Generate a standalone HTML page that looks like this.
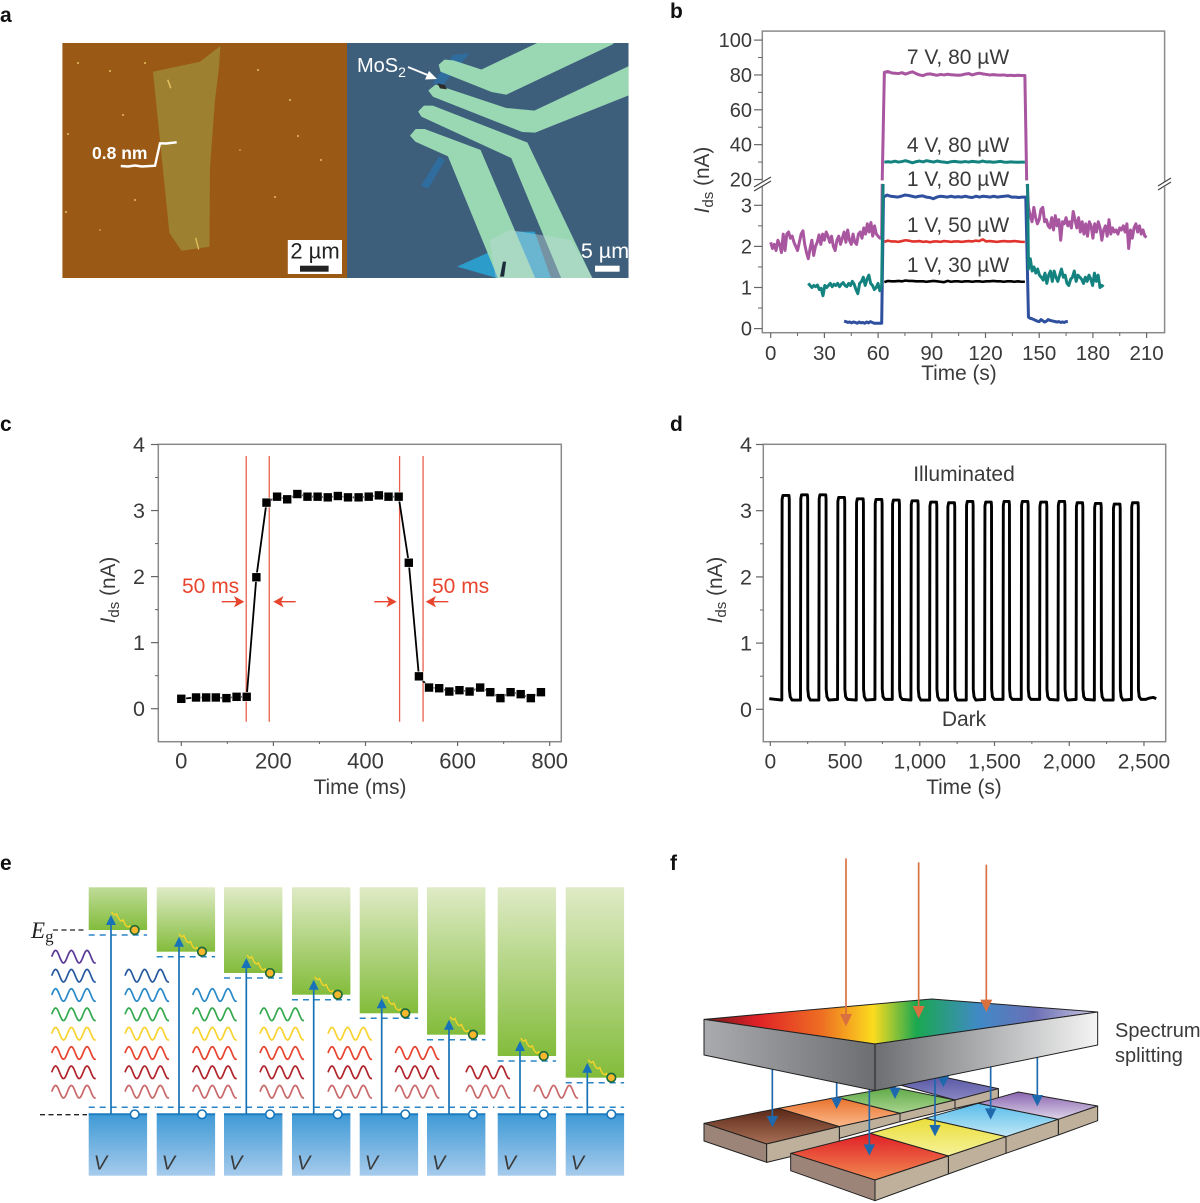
<!DOCTYPE html>
<html lang="en">
<head>
<meta charset="utf-8">
<title>MoS2 phototransistor figure</title>
<style>
html,body{margin:0;padding:0;background:#fff}
svg{display:block}
text{font-family:"Liberation Sans",sans-serif;fill:#3a3a3a}
.pl{font-size:21px;font-weight:bold;fill:#111}
.ax{font-size:20.8px}
.cap{font-size:21px}
</style>
</head>
<body>
<svg id="fig" width="1200" height="1203" viewBox="0 0 1200 1203">
<defs>
<linearGradient id="gGreen" x1="0" y1="0" x2="0" y2="1"><stop offset="0" stop-color="#dfebc6"/><stop offset="1" stop-color="#83bc3b"/></linearGradient>
<linearGradient id="gGreen0" x1="0" y1="0" x2="0" y2="1"><stop offset="0" stop-color="#bfdc98"/><stop offset="1" stop-color="#83bc3b"/></linearGradient>
<linearGradient id="gBlue" x1="0" y1="0" x2="0" y2="1"><stop offset="0" stop-color="#3f9ad6"/><stop offset="1" stop-color="#a6cbec"/></linearGradient>
<linearGradient id="gRainbow" x1="0" y1="0" x2="1" y2="0">
<stop offset="0" stop-color="#6e1a1a"/><stop offset="0.135" stop-color="#e02027"/><stop offset="0.3" stop-color="#ee6f22"/><stop offset="0.43" stop-color="#fcdc1f"/><stop offset="0.54" stop-color="#1aa850"/><stop offset="0.7" stop-color="#4189c7"/><stop offset="0.84" stop-color="#6b6fb5"/><stop offset="1" stop-color="#cfcbe4"/>
</linearGradient>
<linearGradient id="gSlabL" x1="0" y1="0" x2="1" y2="0"><stop offset="0" stop-color="#a9abae"/><stop offset="1" stop-color="#6c6e71"/></linearGradient>
<linearGradient id="gSlabR" x1="0" y1="0" x2="1" y2="0"><stop offset="0" stop-color="#6c6e71"/><stop offset="1" stop-color="#f4f4f4"/></linearGradient>
<linearGradient id="pBrown" x1="0" y1="0" x2="0" y2="1"><stop offset="0" stop-color="#5a2817"/><stop offset="1" stop-color="#a86f55"/></linearGradient>
<linearGradient id="pOrange" x1="0" y1="0" x2="0" y2="1"><stop offset="0" stop-color="#e8702c"/><stop offset="1" stop-color="#fbb98a"/></linearGradient>
<linearGradient id="pGreen" x1="0" y1="0" x2="0" y2="1"><stop offset="0" stop-color="#5fa948"/><stop offset="1" stop-color="#a9d48e"/></linearGradient>
<linearGradient id="pIndigo" x1="0" y1="0" x2="0" y2="1"><stop offset="0" stop-color="#5858a6"/><stop offset="1" stop-color="#9b97cd"/></linearGradient>
<linearGradient id="pRed" x1="0" y1="0" x2="0" y2="1"><stop offset="0" stop-color="#e01f26"/><stop offset="1" stop-color="#f28b52"/></linearGradient>
<linearGradient id="pYellow" x1="0" y1="0" x2="0" y2="1"><stop offset="0" stop-color="#eade3a"/><stop offset="1" stop-color="#f6f29a"/></linearGradient>
<linearGradient id="pSky" x1="0" y1="0" x2="0" y2="1"><stop offset="0" stop-color="#58bceb"/><stop offset="1" stop-color="#c2e8f6"/></linearGradient>
<linearGradient id="pPurple" x1="0" y1="0" x2="0" y2="1"><stop offset="0" stop-color="#8963af"/><stop offset="1" stop-color="#ded5ea"/></linearGradient>
<clipPath id="clipOptical"><rect x="347" y="43" width="281.6" height="235"/></clipPath>
</defs>

<text class="pl" x="0" y="22">a</text>
<text class="pl" x="670" y="18">b</text>
<text class="pl" x="0" y="431">c</text>
<text class="pl" x="670" y="431">d</text>
<text class="pl" x="0" y="870">e</text>
<text class="pl" x="670" y="870">f</text>

<!-- Panel a -->
<g>
  <rect x="62.4" y="43" width="285" height="235" fill="#9a5a16"/>
  <polygon points="220.4,46 219,66.7 215,100 210,167 209.4,246.7 181.6,250.7 169.4,233 161,150 153,71.7 200,61.7" fill="#9d8030"/>
  <g fill="#e5c060">
    <circle cx="78" cy="63" r="1"/><circle cx="110" cy="71" r="1"/><circle cx="145" cy="63" r="1"/><circle cx="123" cy="115" r="1"/><circle cx="68" cy="134" r="1"/><circle cx="298" cy="136" r="1"/><circle cx="321" cy="160" r="1"/><circle cx="258" cy="70" r="1"/><circle cx="275" cy="197" r="1"/><circle cx="66" cy="212" r="1"/><circle cx="135" cy="200" r="1"/><circle cx="290" cy="100" r="1"/><circle cx="240" cy="150" r="0.8"/><circle cx="100" cy="230" r="0.8"/>
    <rect x="167" y="80" width="1.5" height="9" transform="rotate(-20 167 80)"/>
    <rect x="195" y="238" width="1.3" height="12" transform="rotate(-15 195 238)"/>
  </g>
  <polyline points="120.8,166 128,166.5 135,165.5 142,166.5 155,165.7 160,143.3 166,143.5 176.7,142.3" fill="none" stroke="#fff" stroke-width="2.4"/>
  <text x="92" y="159" style="font-size:17.5px;font-weight:bold;fill:#fff">0.8 nm</text>
  <rect x="287.8" y="240" width="54.2" height="34" fill="#fff"/>
  <text x="315" y="258.5" text-anchor="middle" style="font-size:22px;fill:#222">2 µm</text>
  <rect x="300" y="265.7" width="28.6" height="6" fill="#222"/>
</g>
<g clip-path="url(#clipOptical)">
  <rect x="347" y="43" width="281.6" height="235" fill="#3e5f7c"/>
  <g transform="scale(0.40816 0.33333)">
    <polygon points="1120,800 1210,750 1220,695 1310,695 1350,835 1220,835" fill="#2c9ccb"/>
    <polygon points="1110,165 1150,160 1085,255 1060,250" fill="#2f6d9f"/>
    <polygon points="1075,470 1090,480 1050,565 1032,558" fill="#2f6d9f"/>
    <g fill="#99d8b3" stroke="#99d8b3" stroke-width="6" stroke-linejoin="round">
      <polygon points="1090,182 1110,184 1180,212 1320,130 1500,130 1240,281 1205,273 1082,213 1078,195"/>
      <polygon points="1068,257 1240,327 1310,335 1540,202 1540,283 1310,395 1280,393 1063,288 1053,272"/>
      <polygon points="1040,320 1060,320 1290,430 1450,840 1380,840 1255,472 1035,348 1028,335"/>
      <polygon points="1020,390 1040,390 1175,452 1310,840 1225,840 1100,467 1020,423 1008,407"/>
    </g>
    <polygon points="1200,720 1250,690 1400,720 1455,840 1215,840" fill="#c0dcd8" opacity="0.42"/>
    <polygon points="1225,830 1232,785 1240,785 1235,830" fill="#1b2b3a"/>
    <polygon points="1072,250 1090,255 1095,268 1078,265" fill="#2c2a2a"/>
  </g>
  <text x="357" y="72" style="font-size:20px;fill:#fff">MoS<tspan font-size="14" dy="5">2</tspan></text>
  <line x1="408" y1="67" x2="430" y2="76" stroke="#fff" stroke-width="1.8"/>
  <polygon points="437,79 425,79.5 429,71" fill="#fff"/>
  <text x="605" y="258" text-anchor="middle" style="font-size:21.5px;fill:#fff">5 µm</text>
  <rect x="595" y="265.7" width="24.6" height="6" fill="#fff"/>
</g>

<!-- Panel b -->
<g>
  <rect x="762.3" y="31.1" width="402.3" height="301.6" fill="none" stroke="#8a8a8a" stroke-width="1.5"/>
  <g id="bAxes"></g>
  <g id="bSeries"></g>
  <g>
    <polygon points="754,186 771,176 771,181 754,191" fill="#fff"/>
    <line x1="754" y1="187" x2="771" y2="177" stroke="#444" stroke-width="1.2"/>
    <line x1="754" y1="191" x2="771" y2="181" stroke="#444" stroke-width="1.2"/>
    <polygon points="1158,186 1171,178 1171,183 1158,191" fill="#fff"/>
    <line x1="1158" y1="186" x2="1171" y2="178" stroke="#444" stroke-width="1.2"/>
    <line x1="1158" y1="190" x2="1171" y2="182" stroke="#444" stroke-width="1.2"/>
  </g>
  <text class="cap" x="958" y="64" text-anchor="middle">7 V, 80 µW</text>
  <text class="cap" x="958" y="152" text-anchor="middle">4 V, 80 µW</text>
  <text class="cap" x="958" y="186" text-anchor="middle">1 V, 80 µW</text>
  <text class="cap" x="958" y="232" text-anchor="middle">1 V, 50 µW</text>
  <text class="cap" x="958" y="272" text-anchor="middle">1 V, 30 µW</text>
  <text class="ax" x="959" y="380" text-anchor="middle">Time (s)</text>
  <text class="ax" transform="translate(709 180) rotate(-90)" text-anchor="middle"><tspan font-style="italic">I</tspan><tspan font-size="15" dy="4">ds</tspan><tspan dy="-4"> (nA)</tspan></text>
</g>

<!-- Panel c -->
<g>
  <rect x="158.3" y="444.3" width="403" height="297.4" fill="none" stroke="#8a8a8a" stroke-width="1.5"/>
  <g id="cAxes"></g>
  <g id="cMarks"></g>
  <g id="cSeries"></g>
  <g fill="#e8452f" stroke="#e8452f" stroke-width="1.4">
    <path d="M221.7 601.7H238"/><polygon stroke="none" points="244.3,601.7 234,596 236.5,601.7 234,607.4"/>
    <path d="M295.7 601.7H280"/><polygon stroke="none" points="273.3,601.7 283.6,596 281,601.7 283.6,607.4"/>
    <path d="M374.3 601.7H390"/><polygon stroke="none" points="396.7,601.7 386.4,596 389,601.7 386.4,607.4"/>
    <path d="M448.3 601.7H432"/><polygon stroke="none" points="425.7,601.7 436,596 433.4,601.7 436,607.4"/>
  </g>
  <text x="182" y="593" style="font-size:21px;fill:#e8452f">50 ms</text>
  <text x="432" y="593" style="font-size:21px;fill:#e8452f">50 ms</text>
  <text class="ax" x="360" y="794" text-anchor="middle">Time (ms)</text>
  <text class="ax" transform="translate(115 590) rotate(-90)" text-anchor="middle"><tspan font-style="italic">I</tspan><tspan font-size="15" dy="4">ds</tspan><tspan dy="-4"> (nA)</tspan></text>
</g>

<!-- Panel d -->
<g>
  <rect x="763.3" y="444.3" width="402.4" height="297.4" fill="none" stroke="#8a8a8a" stroke-width="1.5"/>
  <g id="dAxes"></g>
  <g id="dSeries"></g>
  <text class="cap" x="964" y="481" text-anchor="middle">Illuminated</text>
  <text class="cap" x="964" y="726" text-anchor="middle">Dark</text>
  <text class="ax" x="964" y="794" text-anchor="middle">Time (s)</text>
  <text class="ax" transform="translate(722 590) rotate(-90)" text-anchor="middle"><tspan font-style="italic">I</tspan><tspan font-size="15" dy="4">ds</tspan><tspan dy="-4"> (nA)</tspan></text>
</g>

<!-- Panel e -->
<g id="panelE">
  <text x="31" y="938" style="font-family:'Liberation Serif',serif;font-style:italic;font-size:23px;fill:#222">E<tspan font-size="17" dy="4" font-style="normal">g</tspan></text>
  <line x1="53" y1="930" x2="87" y2="930" stroke="#222" stroke-width="1.3" stroke-dasharray="5 3.5"/>
  <line x1="40" y1="1114.7" x2="87" y2="1114.7" stroke="#222" stroke-width="1.3" stroke-dasharray="5 3.5"/>
</g>

<!-- Panel f -->
<g transform="translate(680 850) scale(0.33333)">
  <g stroke="#222" stroke-width="3" stroke-linejoin="round">
    <polygon points="660,705 785,680 955,716 955,745 825,775 825,750" fill="url(#pIndigo)"/>
    <polygon points="825,750 955,716 955,745 825,775" fill="#bfb09c"/>
    <polygon points="470,742 640,712 825,750 660,790" fill="url(#pGreen)"/>
    <polygon points="660,790 825,750 825,775 660,815" fill="#bfb09c"/>
    <polygon points="295,775 470,742 660,790 478,830" fill="url(#pOrange)"/>
    <polygon points="478,830 660,790 660,815 478,865" fill="#bfb09c"/>
    <polygon points="72,820 295,775 478,830 260,882" fill="url(#pBrown)"/>
    <polygon points="72,820 260,882 260,937 72,873" fill="#9c8478"/>
    <polygon points="260,882 478,830 478,885 260,937" fill="#bfb09c"/>
  </g>
  <g stroke="#222" stroke-width="3" stroke-linejoin="round">
    <polygon points="895,760 1015,726 1253,768 1135,808" fill="url(#pPurple)"/>
    <polygon points="1135,808 1253,768 1253,812 1135,855" fill="#bfb09c"/>
    <polygon points="735,805 895,760 1135,808 978,860" fill="url(#pSky)"/>
    <polygon points="978,860 1135,808 1135,855 978,910" fill="#bfb09c"/>
    <polygon points="570,850 735,805 978,860 805,918" fill="url(#pYellow)"/>
    <polygon points="805,918 978,860 978,910 805,972" fill="#bfb09c"/>
    <polygon points="332,910 570,850 805,918 585,990" fill="url(#pRed)"/>
    <polygon points="332,910 585,990 585,1052 332,962" fill="#9c8478"/>
    <polygon points="585,990 805,918 805,972 585,1052" fill="#bfb09c"/>
  </g>
  <g stroke="#1e68ae" stroke-width="5" fill="#1e68ae">
    <path d="M277 650V810"/><polygon stroke="none" points="260,798 294,798 277,832"/>
    <path d="M470 690V755"/><polygon stroke="none" points="453,743 487,743 470,777"/>
    <path d="M568 710V895"/><polygon stroke="none" points="551,883 585,883 568,917"/>
    <path d="M645 710V725"/><polygon stroke="none" points="628,713 662,713 645,747"/>
    <path d="M765 670V837"/><polygon stroke="none" points="748,825 782,825 765,859"/>
    <path d="M790 670V690"/><polygon stroke="none" points="773,678 807,678 790,712"/>
    <path d="M932 640V787"/><polygon stroke="none" points="915,775 949,775 932,809"/>
    <path d="M1072 610V747"/><polygon stroke="none" points="1055,735 1089,735 1072,769"/>
  </g>
  <g stroke="#222" stroke-width="3" stroke-linejoin="round">
    <polygon points="72,508 755,447 1253,486 585,582" fill="url(#gRainbow)"/>
    <polygon points="72,508 585,582 585,722 72,615" fill="url(#gSlabL)"/>
    <polygon points="585,582 1253,486 1253,585 585,722" fill="url(#gSlabR)"/>
  </g>
  <g stroke="#d9703f" stroke-width="5" fill="#d9703f">
    <path d="M498 25V500"/><polygon stroke="none" points="480,492 516,492 498,529"/>
    <path d="M716 37V476"/><polygon stroke="none" points="698,468 734,468 716,505"/>
    <path d="M919 44V457"/><polygon stroke="none" points="901,449 937,449 919,486"/>
  </g>
</g>
<text x="1115" y="1037" style="font-size:20px">Spectrum</text>
<text x="1115" y="1062" style="font-size:20px">splitting</text>
</svg>

<script>
/* ---------- Chart b data ---------- */
const bXTicks = [0, 30, 60, 90, 120, 150, 180, 210];
const bXMinor = [15, 45, 75, 105, 135, 165, 195];
const bUpperTicks = [100, 80, 60, 40, 20];
const bUpperMinor = [90, 70, 50, 30];
const bLowerTicks = [3, 2, 1, 0];
const bLowerMinor = [2.5, 1.5, 0.5];
const bPurpleLeft = [2.10,1.95,2.05,1.90,2.15,2.05,1.85,2.30,1.90,2.30,2.35,2.20,2.25,2.10,2.00,1.90,2.10,2.30,2.38,2.05,1.85,1.70,1.95,2.15,1.78,2.00,2.10,2.28,2.05,2.30,2.15,2.35,2.25,2.10,2.25,2.00,1.90,2.15,2.25,2.05,2.20,2.35,2.10,2.40,2.15,2.05,2.30,2.10,2.05,2.30,2.35,2.20,2.45,2.30,2.55,2.35,2.58,2.25,2.50,2.30,2.25,2.20,2.20];
const bPurpleRight = [2.95,2.75,2.60,2.95,2.70,2.55,2.65,2.90,2.95,2.60,2.65,2.50,2.45,2.70,2.40,2.75,2.50,2.65,2.15,2.60,2.55,2.70,2.50,2.60,2.45,2.85,2.65,2.45,2.70,2.35,2.60,2.30,2.55,2.25,2.60,2.50,2.20,2.55,2.35,2.60,2.45,2.15,2.40,2.50,2.25,2.65,2.30,2.45,2.35,2.40,2.30,2.45,2.40,2.50,2.35,2.55,1.95,2.40,2.20,2.45,2.55,2.35,2.50,2.30,2.40,2.25,2.22];
const bTealLeft = [1.10,1.05,1.00,1.05,1.02,1.06,0.95,0.98,0.80,1.05,1.00,1.05,1.10,1.02,1.08,1.05,1.10,1.02,1.08,1.12,1.05,1.02,1.10,1.05,1.15,1.08,0.95,0.85,1.10,1.15,1.25,1.05,1.20,1.30,1.10,1.05,0.95,1.00,1.10,0.92,1.05];
const bTealRight = [1.45,1.70,1.40,1.50,1.35,1.45,1.30,1.25,1.18,1.35,1.10,1.30,1.40,1.15,1.40,1.25,1.15,1.30,1.45,1.25,1.30,1.10,1.05,1.20,1.25,1.40,1.15,1.30,1.25,1.20,1.10,1.25,1.15,1.30,1.20,1.05,1.35,1.15,1.30,1.00,1.05,1.02];
const bBlueLeft = [0.18,0.17,0.15,0.16,0.14,0.16,0.15,0.13,0.16,0.14,0.15,0.13,0.16,0.14,0.17,0.15,0.13,0.13,0.13,0.13,0.13];
const bBlueRight = [0.28,0.25,0.24,0.22,0.20,0.18,0.17,0.22,0.19,0.16,0.18,0.22,0.20,0.19,0.18,0.17,0.16,0.17,0.15,0.16,0.15,0.17,0.17];
const bPurplePlateau = [81.5,82,81.2,81,80.8,81.3,80.5,81.2,81.8,80.8,80,79.6,80.4,80.6,80.2,79.8,80.3,80,80.4,80.1,80,79.8,80,80.5,80.8,80,80.6,81,80.6,80.3,80,80.2,80,79.9,80,79.7,79.8,79.6,79.8,79.7,79.7];
const bTealPlateau = [30,30.2,30,30.5,30,30.3,30.8,30.2,29.6,30.2,30.6,30.1,30.8,30.4,30,30.6,30.2,30,29.7,30.2,30.4,30.1,30,30.3,30,30.4,30.2,30,30.6,30.1,30.2,29.9,30.1,30.4,30,29.9,30.1,30,29.9,30,30];
const bBluePlateau = [3.20,3.25,3.22,3.21,3.20,3.22,3.25,3.24,3.22,3.20,3.22,3.23,3.20,3.19,3.16,3.20,3.22,3.21,3.20,3.22,3.20,3.21,3.20,3.22,3.20,3.19,3.22,3.20,3.22,3.21,3.20,3.22,3.20,3.21,3.22,3.23,3.20,3.20,3.19,3.20,3.20];
const bRedPlateau = [2.11,2.14,2.12,2.12,2.11,2.13,2.15,2.14,2.12,2.12,2.13,2.11,2.12,2.10,2.12,2.12,2.11,2.13,2.12,2.11,2.12,2.12,2.11,2.12,2.13,2.12,2.14,2.13,2.17,2.12,2.13,2.12,2.11,2.12,2.13,2.12,2.12,2.13,2.12,2.11,2.11];
const bBlackPlateau = [1.13,1.16,1.15,1.15,1.16,1.15,1.17,1.16,1.16,1.15,1.15,1.15,1.14,1.15,1.16,1.15,1.14,1.13,1.16,1.14,1.15,1.15,1.14,1.15,1.15,1.14,1.15,1.15,1.14,1.15,1.15,1.16,1.15,1.15,1.14,1.15,1.15,1.14,1.15,1.14,1.14];

/* ---------- Chart c data ---------- */
const cXTicks = [0, 200, 400, 600, 800];
const cXMinor = [100, 300, 500, 700];
const cYTicks = [4, 3, 2, 1, 0];
const cYMinor = [3.5, 2.5, 1.5, 0.5];
const cTimes = [0,32,54,75,98,120,142,163,185,208,230,252,274,296,318,340,362,385,407,429,450,472,494,516,538,560,582,604,626,649,671,693,715,737,759,781];
const cCurrents = [0.15,0.17,0.17,0.17,0.16,0.18,0.18,1.99,3.12,3.21,3.17,3.25,3.21,3.21,3.20,3.22,3.20,3.20,3.21,3.23,3.21,3.21,2.21,0.49,0.32,0.31,0.26,0.28,0.26,0.32,0.25,0.16,0.25,0.22,0.16,0.25];
const cGuideTimes = [141, 191, 474, 525];

/* ---------- Chart d data ---------- */
const dXTicks = [0, 500, 1000, 1500, 2000, 2500];
const dXTickLabels = ['0', '500', '1,000', '1,500', '2,000', '2,500'];
const dXMinor = [250, 750, 1250, 1750, 2250];
const dYTicks = [4, 3, 2, 1, 0];
const dYMinor = [3.5, 2.5, 1.5, 0.5];
const dPulseOn = [78,203,326,451,576,701,817,942,1067,1187,1312,1435,1558,1680,1803,1926,2047,2169,2295,2417];
const dPulseOff = [127,250,373,498,623,748,864,989,1114,1234,1357,1480,1600,1725,1850,1971,2091,2214,2341,2462];
const dPulseHigh = [3.23,3.24,3.24,3.20,3.18,3.17,3.16,3.15,3.13,3.12,3.14,3.13,3.14,3.14,3.13,3.14,3.12,3.11,3.10,3.12];
const dDarkLevel = [0.14,0.14,0.14,0.15,0.14,0.15,0.15,0.14,0.14,0.14,0.14,0.15,0.15,0.15,0.15,0.14,0.15,0.14,0.14,0.15];
const dStartTime = -7;
const dEndTime = 2582;

/* ---------- Axis functions ---------- */
const bx = t => 770.7 + t * 1.79;
const byU = v => 179.5 - (v - 20) * 1.7425;
const byL = v => 328.6 - v * 41.1;
const cx = t => 181.3 + t * 0.4605;
const cy = v => 708.7 - v * 66.05;
const dx = t => 770.3 + t * 0.14947;
const dy = v => 709.3 - v * 66.2;

const NS = 'http://www.w3.org/2000/svg';
function mk(parent, tag, attrs) {
  const e = document.createElementNS(NS, tag);
  for (const k in attrs) e.setAttribute(k, attrs[k]);
  parent.appendChild(e);
  return e;
}
const spread = (arr, t0, t1) => arr.map((v, i) => [t0 + i * (t1 - t0) / (arr.length - 1), v]);
const pathOf = pts => 'M' + pts.map(p => p[0].toFixed(2) + ' ' + p[1].toFixed(2)).join('L');

/* ---------- Draw chart b ---------- */
const bAxes = document.getElementById('bAxes');
bXTicks.forEach(v => {
  const t = mk(bAxes, 'line', {x1: bx(v), x2: bx(v), y1: 332.7, y2: 338, stroke: '#666', 'stroke-width': 1.2});
  
  
  const l = mk(bAxes, 'text', {x: bx(v), y: 360, 'text-anchor': 'middle', 'font-size': 20.5});
  l.textContent = String(v);
  
  
});
bXMinor.forEach(v => {
  const t = mk(bAxes, 'line', {x1: bx(v), x2: bx(v), y1: 332.7, y2: 336, stroke: '#666', 'stroke-width': 1});
  
  
});
bUpperTicks.forEach(v => {
  const t = mk(bAxes, 'line', {x1: 754, x2: 762.3, y1: byU(v), y2: byU(v), stroke: '#666', 'stroke-width': 1.2});
  
  
  const l = mk(bAxes, 'text', {x: 752, y: byU(v) + 7, 'text-anchor': 'end', 'font-size': 20});
  l.textContent = String(v);
  
  
});
bUpperMinor.forEach(v => {
  const t = mk(bAxes, 'line', {x1: 758, x2: 762.3, y1: byU(v), y2: byU(v), stroke: '#666', 'stroke-width': 1});
  
  
});
bLowerTicks.forEach(v => {
  const t = mk(bAxes, 'line', {x1: 754, x2: 762.3, y1: byL(v), y2: byL(v), stroke: '#666', 'stroke-width': 1.2});
  
  
  const l = mk(bAxes, 'text', {x: 752, y: byL(v) + 7, 'text-anchor': 'end', 'font-size': 20});
  l.textContent = String(v);
  
  
});
bLowerMinor.forEach(v => {
  const t = mk(bAxes, 'line', {x1: 758, x2: 762.3, y1: byL(v), y2: byL(v), stroke: '#666', 'stroke-width': 1});
  
  
});

const bSeries = document.getElementById('bSeries');
const bBreakLower = 3.52;
const bBreakUpper = 19.5;
const low = pts => pts.map(p => [bx(p[0]), byL(p[1])]);
const up = pts => pts.map(p => [bx(p[0]), byU(p[1])]);
const lineStyle = (c, w) => ({fill: 'none', stroke: c, 'stroke-width': w, 'stroke-linejoin': 'round'});

const purpleL = mk(bSeries, 'path', {d: pathOf(low(spread(bPurpleLeft, 0, 62).concat([[62.3, bBreakLower]]))), ...lineStyle('#a8569f', 3)});


const purpleU = mk(bSeries, 'path', {d: pathOf(up([[62.3, bBreakUpper]].concat(spread(bPurplePlateau, 63.5, 142), [[143, bBreakUpper]]))), ...lineStyle('#a8569f', 3)});


const purpleR = mk(bSeries, 'path', {d: pathOf(low([[143.3, bBreakLower]].concat(spread(bPurpleRight, 144, 210)))), ...lineStyle('#a8569f', 3)});



const blackP = mk(bSeries, 'path', {d: pathOf(low(spread(bBlackPlateau, 63.5, 142))), ...lineStyle('#000', 2.6)});


const redP = mk(bSeries, 'path', {d: pathOf(low(spread(bRedPlateau, 63.5, 142))), ...lineStyle('#e2322c', 2.6)});



const blueLine = mk(bSeries, 'path', {d: pathOf(low(spread(bBlueLeft, 41, 62).concat(spread(bBluePlateau, 63, 142.5), spread(bBlueRight, 144, 166)))), ...lineStyle('#2f4f9f', 3)});



const tealL = mk(bSeries, 'path', {d: pathOf(low(spread(bTealLeft, 21, 62).concat([[62.8, bBreakLower]]))), ...lineStyle('#14837f', 3)});


const tealU = mk(bSeries, 'path', {d: pathOf(up(spread(bTealPlateau, 63.5, 142))), ...lineStyle('#14837f', 3)});


const tealR = mk(bSeries, 'path', {d: pathOf(low([[143.5, bBreakLower]].concat(spread(bTealRight, 144, 186)))), ...lineStyle('#14837f', 3)});



/* ---------- Draw chart c ---------- */
const cAxes = document.getElementById('cAxes');
cXTicks.forEach(v => {
  const t = mk(cAxes, 'line', {x1: cx(v), x2: cx(v), y1: 741.7, y2: 746, stroke: '#666', 'stroke-width': 1.2});
  
  
  const l = mk(cAxes, 'text', {x: cx(v), y: 768.5, 'text-anchor': 'middle', 'font-size': 22});
  l.textContent = String(v);
  
  
});
cXMinor.forEach(v => {
  const t = mk(cAxes, 'line', {x1: cx(v), x2: cx(v), y1: 741.7, y2: 744, stroke: '#666', 'stroke-width': 1});
  
  
});
cYTicks.forEach(v => {
  const t = mk(cAxes, 'line', {x1: 151, x2: 158.3, y1: cy(v), y2: cy(v), stroke: '#666', 'stroke-width': 1.2});
  
  
  const l = mk(cAxes, 'text', {x: 145, y: cy(v) + 7.5, 'text-anchor': 'end', 'font-size': 21.5});
  l.textContent = String(v);
  
  
});
cYMinor.forEach(v => {
  const t = mk(cAxes, 'line', {x1: 155, x2: 158.3, y1: cy(v), y2: cy(v), stroke: '#666', 'stroke-width': 1});
  
  
});
const cMarks = document.getElementById('cMarks');
cGuideTimes.forEach(v => {
  const g = mk(cMarks, 'line', {x1: cx(v), x2: cx(v), y1: 456, y2: 721.7, stroke: '#e8604c', 'stroke-width': 1.3});
  
  
});
const cSeries = document.getElementById('cSeries');
const cLine = mk(cSeries, 'path', {d: pathOf(cTimes.map((t, i) => [cx(t), cy(cCurrents[i])])), fill: 'none', stroke: '#000', 'stroke-width': 1.8});


cTimes.forEach((t, i) => {
  const m = mk(cSeries, 'rect', {x: cx(t) - 4.2, y: cy(cCurrents[i]) - 4.2, width: 8.4, height: 8.4, fill: '#000', stroke: '#fff', 'stroke-width': 1.2, 'paint-order': 'stroke'});
  
  
});

/* ---------- Draw chart d ---------- */
const dAxes = document.getElementById('dAxes');
dXTicks.forEach((v, i) => {
  const t = mk(dAxes, 'line', {x1: dx(v), x2: dx(v), y1: 741.7, y2: 746, stroke: '#666', 'stroke-width': 1.2});
  
  
  const l = mk(dAxes, 'text', {x: dx(v), y: 768.5, 'text-anchor': 'middle', 'font-size': 21});
  l.textContent = dXTickLabels[i];
  
  
});
dXMinor.forEach(v => {
  const t = mk(dAxes, 'line', {x1: dx(v), x2: dx(v), y1: 741.7, y2: 744, stroke: '#666', 'stroke-width': 1});
  
  
});
dYTicks.forEach(v => {
  const t = mk(dAxes, 'line', {x1: 756, x2: 763.3, y1: dy(v), y2: dy(v), stroke: '#666', 'stroke-width': 1.2});
  
  
  const l = mk(dAxes, 'text', {x: 752, y: dy(v) + 7.5, 'text-anchor': 'end', 'font-size': 21.5});
  l.textContent = String(v);
  
  
});
dYMinor.forEach(v => {
  const t = mk(dAxes, 'line', {x1: 760, x2: 763.3, y1: dy(v), y2: dy(v), stroke: '#666', 'stroke-width': 1});
  
  
});
const dPts = [[dStartTime, dDarkLevel[0] + 0.02]];
dPulseOn.forEach((on, i) => {
  const off = dPulseOff[i], hi = dPulseHigh[i], lo = dDarkLevel[i];
  dPts.push([on - 1, lo], [on, 1.7], [on + 1, hi - 0.06], [on + 6, hi], [off - 2, hi], [off, hi - 0.06], [off + 1, 0.3], [off + 6, 0.19], [off + 18, lo]);
});
dPts.push([dEndTime - 70, dDarkLevel[19]], [dEndTime - 45, 0.17], [dEndTime - 20, 0.18], [dEndTime, 0.16]);
const dSeries = document.getElementById('dSeries');
const dLine = mk(dSeries, 'path', {d: pathOf(dPts.map(p => [dx(p[0]), dy(p[1])])), fill: 'none', stroke: '#000', 'stroke-width': 2.9, 'stroke-linejoin': 'round'});



/* ---------- Draw panel e ---------- */
const eLeft = [88.7, 156.7, 224, 292, 359.7, 427, 497.7, 565.7];
const eGreenBottom = [930, 951.7, 973, 994.7, 1013.3, 1034.7, 1056, 1077.7];
const eArrowX = [111, 179, 246.3, 313.7, 381.7, 449, 520, 587.3];
const eDotX = [134.7, 202, 270, 337.7, 405.3, 473, 543.7, 611.3];
const eWaveX = [51.7, 125, 192.7, 260, 328, 395.3, 466, 534];
const eWaveFirstRow = [0, 1, 2, 3, 4, 5, 6, 7];
const eRowY = [956.7, 975.7, 995, 1014.3, 1033.7, 1053, 1072.3, 1091.7];
const eRowColor = ['#5b3a95', '#27599f', '#2a8ac8', '#35a94f', '#f9d331', '#e8432f', '#b0242c', '#c9686a'];
const eTop = 887.3, eBlueTop = 1114.3, eBlueBottom = 1175.7, eBarW = 58.4, eLowerDash = 1107.3;
const E = document.getElementById('panelE');

eLeft.forEach((x, i) => {
  const bottom = eGreenBottom[i];
  const green = mk(E, 'rect', {x: x, y: eTop, width: eBarW, height: bottom - eTop, fill: i === 0 ? 'url(#gGreen0)' : 'url(#gGreen)'});
  
  
  const blue = mk(E, 'rect', {x: x, y: eBlueTop, width: eBarW, height: eBlueBottom - eBlueTop, fill: 'url(#gBlue)'});
  
  
  const edge = mk(E, 'line', {x1: x, x2: x + eBarW, y1: eBlueTop, y2: eBlueTop, stroke: '#1f7cc0', 'stroke-width': 2});
  
  
  const dashU = mk(E, 'line', {x1: x, x2: x + eBarW, y1: bottom + 5, y2: bottom + 5, stroke: '#2a85c6', 'stroke-width': 1.5, 'stroke-dasharray': '6 5'});
  
  
  const dashL = mk(E, 'line', {x1: x, x2: i === 7 ? x + eBarW : x + eBarW + 9, y1: eLowerDash, y2: eLowerDash, stroke: '#2a85c6', 'stroke-width': 1.5, 'stroke-dasharray': '6 5'});
  
  
  const v = mk(E, 'text', {x: x + 5, y: 1169.5, 'font-size': 20, 'font-style': 'italic', fill: '#222'});
  v.textContent = 'V';
  
  

  const ax = eArrowX[i], tip = bottom - 15;
  const shaft = mk(E, 'line', {x1: ax, x2: ax, y1: eBlueTop, y2: tip + 8, stroke: '#1772b8', 'stroke-width': 1.7});
  
  
  const head = mk(E, 'polygon', {points: [ax, tip, ax - 5, tip + 10, ax + 5, tip + 10].join(','), fill: '#1772b8'});
  
  

  const dx0 = eDotX[i];
  const wig = [];
  for (let k = 0; k <= 6; k++) {
    wig.push([dx0 - 23 + k * 3.3, bottom - 18 + k * 3]);
    wig.push([dx0 - 23 + k * 3.3 + 1.6, bottom - 18 + k * 3 + (k % 2 ? -1.2 : 2.2)]);
  }
  const wiggle = mk(E, 'path', {d: pathOf(wig), fill: 'none', stroke: '#f5d328', 'stroke-width': 1.4});
  
  
  const electron = mk(E, 'circle', {cx: dx0, cy: bottom, r: 4.3, fill: '#f8b72c', stroke: '#1d6b3c', 'stroke-width': 1.7});
  
  
  const hole = mk(E, 'circle', {cx: dx0, cy: eBlueTop, r: 4.3, fill: '#fff', stroke: '#1775b9', 'stroke-width': 1.6});
  
  

  for (let r = eWaveFirstRow[i]; r < eRowY.length; r++) {
    const pts = [];
    for (let px = 0; px <= 44.4; px += 0.8) {
      pts.push([eWaveX[i] + px, eRowY[r] - 6.3 * Math.sin(px * 0.4)]);
    }
    const w = mk(E, 'path', {d: pathOf(pts), fill: 'none', stroke: eRowColor[r], 'stroke-width': 1.7});
    
    
  }
});
</script>
</body>
</html>
